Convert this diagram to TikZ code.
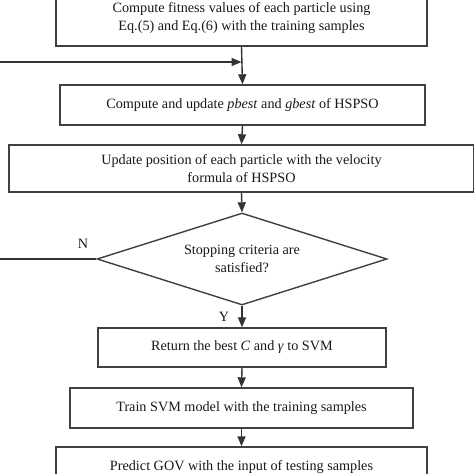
\documentclass[tikz,border=0pt]{standalone}
\usepackage{fontspec}
\setmainfont{Liberation Serif}
\usetikzlibrary{shapes.geometric,arrows.meta}
\begin{document}
\begin{tikzpicture}[x=1pt,y=-1pt,
  every node/.style={font=\fontsize{14.2}{18}\selectfont, text=black!90},
  procbox/.style={draw=black!75, line width=1.4pt, rectangle, inner sep=0pt, align=center},
  decbox/.style={draw=black!75, line width=1.4pt, diamond, aspect=3.15, inner sep=0pt, align=center},
  flow/.style={draw=black!80, line width=1.4pt, -{Triangle[length=10pt,width=8pt]}},
  plain/.style={draw=black!75, line width=1.4pt}]
\useasboundingbox (0,0) rectangle (474,474);
\fill[white] (0,0) rectangle (474,474);
\node[procbox, minimum width=371pt, minimum height=55pt] (b1) at (241.5,18.5)
  {Compute fitness values of each particle using\\Eq.(5) and Eq.(6) with the training samples};
\node[procbox, minimum width=365pt, minimum height=40pt] (b2) at (242.5,105)
  {Compute and update \textit{pbest} and \textit{gbest} of HSPSO};
\node[procbox, minimum width=465pt, minimum height=47pt] (b3) at (241.5,168.5)
  {Update position of each particle with the velocity\\formula of HSPSO};
\node[decbox, minimum width=290pt, minimum height=92pt] (d) at (242,259)
  {Stopping criteria are\\satisfied?};
\node[procbox, minimum width=288pt, minimum height=39pt] (b4) at (242,347.5)
  {Return the best \textit{C} and \textit{γ} to SVM};
\node[procbox, minimum width=343pt, minimum height=40pt] (b5) at (241.5,408)
  {Train SVM model with the training samples};
\node[procbox, minimum width=371pt, minimum height=40pt] (b6) at (241.5,467)
  {Predict GOV with the input of testing samples};
\coordinate (m) at (b1.south |- 0,62);
\coordinate (la) at (-2,259);
\coordinate (lb) at (-2,62);
\draw[flow] (b1.south) -- (b2.north);
\draw[flow] (b2.south) -- (b3.north);
\draw[flow] (b3.south) -- (d.north);
\draw[flow] (d.south) -- (b4.north);
\draw[flow] (b4.south) -- (b5.north);
\draw[flow] (b5.south) -- (b6.north);
\draw[flow] (d.west) -- (la) -- (lb) -- (m);
\node (n) at (83,244) {N};
\node (y) at (224,317) {Y};
\end{tikzpicture}
\end{document}
